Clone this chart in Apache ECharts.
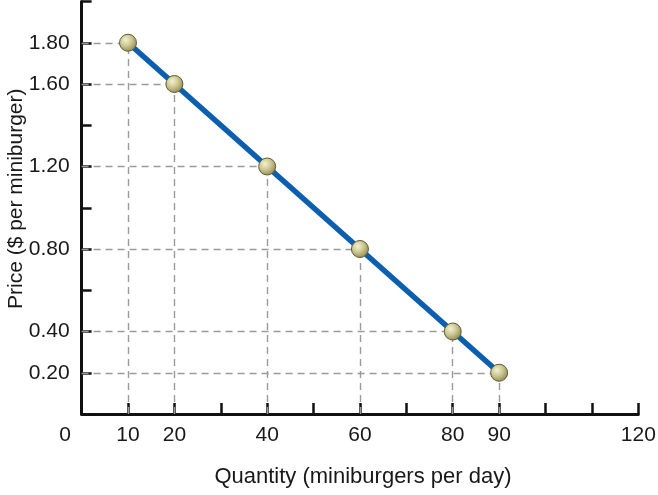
<!DOCTYPE html>
<html>
<head>
<meta charset="utf-8">
<script src="https://cdn.jsdelivr.net/npm/echarts@6/dist/echarts.min.js"></script>
<style>
html,body{margin:0;padding:0;background:#fff;}
#c{width:658px;height:495px;}
</style>
</head>
<body>
<div id="c"></div>
<script>
var quantity = [10, 20, 40, 60, 80, 90];
var price = [1.80, 1.60, 1.20, 0.80, 0.40, 0.20];
var xTickLabels = [0, 10, 20, 40, 60, 80, 90, 120];
var yTickLabels = [0.20, 0.40, 0.80, 1.20, 1.60, 1.80];
var xName = 'Quantity (miniburgers per day)';
var yName = 'Price ($ per miniburger)';

var points = quantity.map(function (q, i) { return [q, price[i]]; });
var guides = [];
points.forEach(function (p) {
  guides.push([{ coord: [0, p[1]] }, { coord: [p[0], p[1]] }]);
  guides.push([{ coord: [p[0], 0] }, { coord: [p[0], p[1]] }]);
});

var font = 'Liberation Sans, Arial, Helvetica, sans-serif';
var chart = echarts.init(document.getElementById('c'));
chart.setOption({
  animation: false,
  backgroundColor: '#fff',
  grid: { left: 81.6, right: 19.7, top: 1.5, bottom: 81, outerBoundsMode: 'none', containLabel: false },
  xAxis: {
    type: 'value', min: 0, max: 120, interval: 10,
    name: xName, nameLocation: 'middle', nameGap: 52, nameMoveOverlap: false,
    nameTextStyle: { fontFamily: font, fontSize: 22, color: '#1a1718', padding: [0, 0, 0, 6] },
    axisLine: { show: true, lineStyle: { color: '#111', width: 3 } },
    axisTick: { show: true, inside: true, length: 11, lineStyle: { color: '#111', width: 2.5 } },
    axisLabel: {
      margin: 11, fontFamily: font, fontSize: 21, color: '#1a1718',
      formatter: function (v) {
        if (xTickLabels.indexOf(v) < 0) return '';
        if (v === 0) return '{z|0}';
        return String(v);
      },
      rich: { z: { fontFamily: font, fontSize: 21, color: '#1a1718', padding: [0, 33, 0, 0] } }
    },
    splitLine: { show: false }
  },
  yAxis: {
    type: 'value', min: 0, max: 2.0, interval: 0.2,
    name: yName, nameLocation: 'middle', nameGap: 55, nameRotate: 90, nameMoveOverlap: false,
    nameTextStyle: { fontFamily: font, fontSize: 21, color: '#1a1718', padding: [0, 0, 0, 18] },
    axisLine: { show: true, lineStyle: { color: '#111', width: 3 } },
    axisTick: { show: true, inside: true, length: 10, lineStyle: { color: '#111', width: 2.5 } },
    axisLabel: {
      margin: 12, fontFamily: font, fontSize: 21, color: '#1a1718',
      formatter: function (v) {
        var r = Math.round(v * 100) / 100;
        for (var i = 0; i < yTickLabels.length; i++) {
          if (Math.abs(yTickLabels[i] - r) < 1e-6) return r.toFixed(2);
        }
        return '';
      }
    },
    splitLine: { show: false }
  },
  series: [
    {
      type: 'line', data: [], z: 1, silent: true,
      markLine: {
        silent: true, symbol: 'none', animation: false, z: 1,
        label: { show: false },
        lineStyle: { color: '#9a9a9a', width: 1.4, type: [7, 5] },
        emphasis: { disabled: true },
        data: guides
      }
    },
    {
      type: 'line', data: points, z: 3,
      lineStyle: { color: '#0b5fae', width: 5.5 },
      symbol: 'circle', symbolSize: 17,
      itemStyle: {
        color: {
          type: 'radial', x: 0.38, y: 0.35, r: 0.7,
          colorStops: [
            { offset: 0, color: '#f3f1d2' },
            { offset: 0.45, color: '#cfc994' },
            { offset: 1, color: '#8c8752' }
          ]
        },
        borderColor: '#5f5c35', borderWidth: 1
      },
      emphasis: { disabled: true }
    }
  ]
});
</script>
</body>
</html>
